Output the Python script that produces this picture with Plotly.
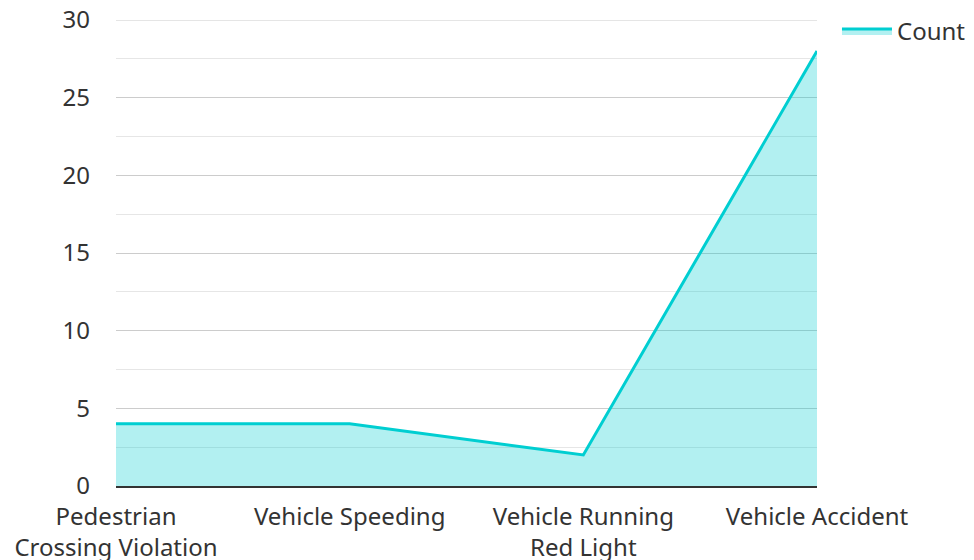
import plotly.graph_objects as go

categories = ["Pedestrian<br>Crossing Violation", "Vehicle Speeding", "Vehicle Running<br>Red Light", "Vehicle Accident"]
counts = [4, 4, 2, 28]
y_ticks = [0, 5, 10, 15, 20, 25, 30]

fig = go.Figure()
fig.add_trace(go.Scatter(
    x=categories, y=counts, name="Count", mode="lines",
    line=dict(color="#00CED1", width=3),
    fill="tozeroy", fillcolor="rgba(0,206,209,0.3)",
))

# top major grid line (plotly drops grid lines lying on the plot edge)
fig.add_shape(type="line", xref="paper", x0=0, x1=1, yref="y", y0=y_ticks[-1], y1=y_ticks[-1],
              line=dict(color="#ccc", width=1), layer="below")

fig.update_layout(
    width=966, height=552,
    margin=dict(l=108, r=157, t=12, b=74, autoexpand=False),
    plot_bgcolor="white", paper_bgcolor="white",
    font=dict(family="Noto Sans", size=24, color="#333"),
    showlegend=True,
    legend=dict(x=1.0285, y=1.024, xanchor="left", yanchor="top", font=dict(size=24, color="#333"),
                bgcolor="rgba(0,0,0,0)", itemwidth=50),
    xaxis=dict(type="category", range=[0, 3], showgrid=False, showline=True, automargin=False,
               linecolor="#333", linewidth=2, ticks="", ticklabelstandoff=8,
               ticklabeloverflow="allow", tickfont=dict(size=24, color="#333")),
    yaxis=dict(range=[0, 30], tickvals=y_ticks, showgrid=True, gridcolor="#ccc", gridwidth=1,
               zeroline=False, showline=False, ticks="", ticklabelstandoff=25, automargin=False,
               ticklabeloverflow="allow", tickfont=dict(size=24, color="#333"),
               minor=dict(dtick=2.5, showgrid=True, gridcolor="#e6e6e6", gridwidth=1)),
)

fig.write_html("out.html")
